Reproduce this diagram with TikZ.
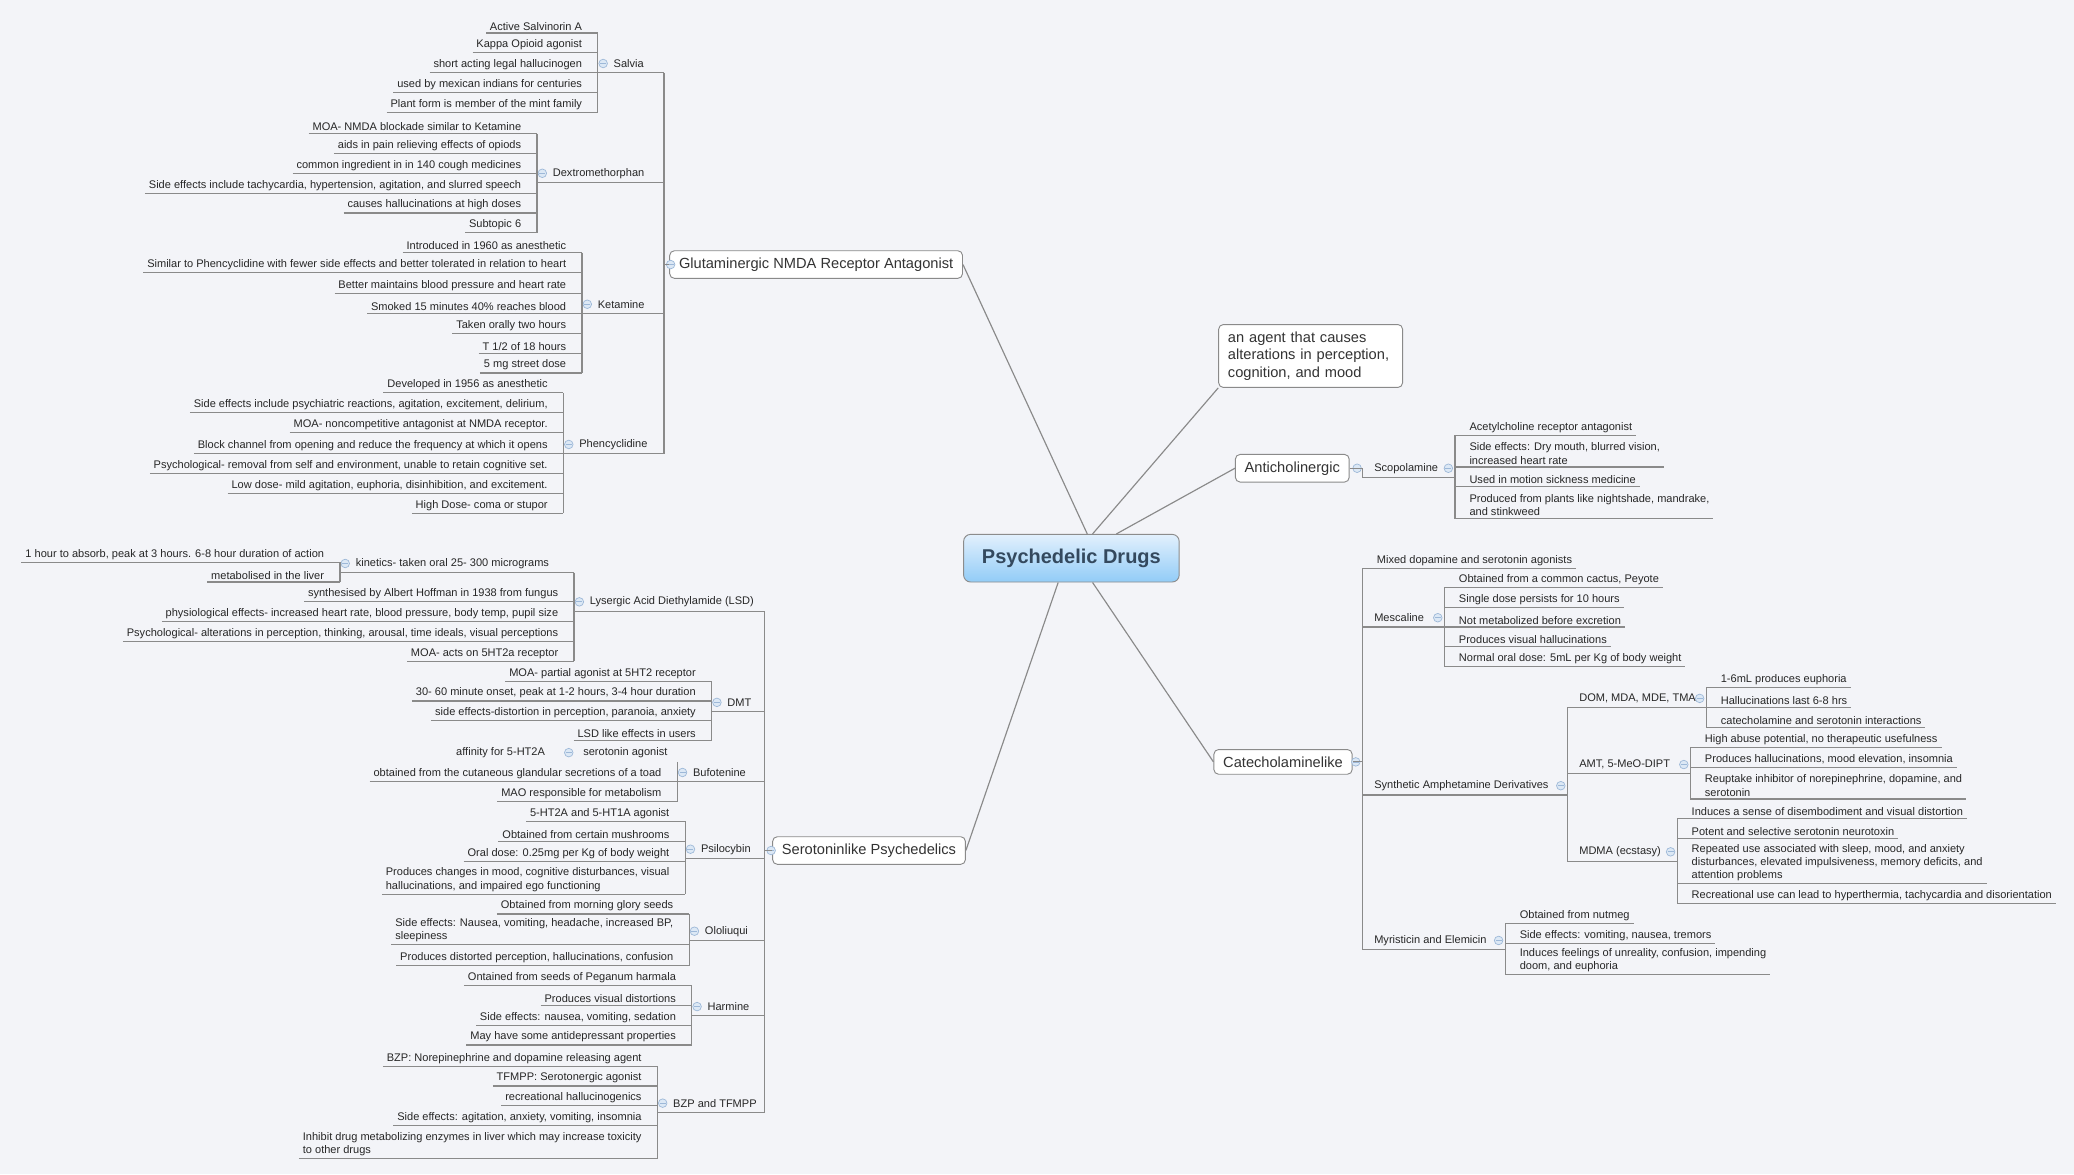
\documentclass[tikz,border=0pt]{standalone}
\usepackage{fontspec}
\setmainfont{Liberation Sans}
\usetikzlibrary{positioning}

\definecolor{bg}{HTML}{F3F4F8}
\definecolor{lnc}{HTML}{8A8A8A}
\definecolor{foldc}{HTML}{9DB8D8}
\definecolor{foldf}{HTML}{DCE8F5}
\definecolor{ctop}{HTML}{E2F0FD}
\definecolor{cbot}{HTML}{92CCF7}
\definecolor{ctext}{HTML}{34495E}

% leaf on the left / right of its bracket: name, bracket x, underline y, text
\newcommand\leafL[4]{\node[leaf,anchor=south east] (#1) at (#2-9,#3) {#4};
  \draw[ln] (#1.south west) -- (#2,#3);}
\newcommand\leafR[4]{\node[leaf,anchor=south west] (#1) at (#2+8,#3) {#4};
  \draw[ln] (#2,#3) -- (#1.south east);}
% subtopic: name, child bracket x, parent bracket x, text y, text
\newcommand\subL[5]{\node[fold] at (#2+4,#4) {};
  \node[leaf,anchor=west] (#1) at (#2+9,#4) {#5};
  \draw[ln] (#2,#4+7) -- (#3,#4+7);}
\newcommand\subR[5]{\node[fold] at (#2-5,#4) {};
  \node[leaf,anchor=west] (#1) at (#3+6,#4) {#5};
  \draw[ln] (#3,#4+7) -- (#2,#4+7);}
\newcommand\brk[3]{\draw[ln] (#1,#2) -- (#1,#3);}

\begin{document}
\begin{tikzpicture}[x=0.02cm,y=-0.02cm,
ln/.style={draw=lnc,line width=0.5pt},
leaf/.style={inner xsep=1.5pt,inner ysep=1pt,font=\fontsize{4.75}{5.7}\selectfont,align=left,text=black!85},
fold/.style={circle,draw=foldc,fill=foldf,minimum size=0.13cm,inner sep=0pt,line width=0.3pt,
  path picture={\draw[foldc,line width=0.3pt] ([xshift=-1.3pt]path picture bounding box.center) -- ++(2.6pt,0);}},
branch/.style={draw=lnc,fill=white,rounded corners=2pt,inner xsep=4pt,inner ysep=3pt,font=\fontsize{6.3}{7.6}\selectfont,text=black!80},
central/.style={draw=black!45,rounded corners=3pt,top color=ctop,bottom color=cbot,minimum width=3.26cm,minimum height=0.72cm,font=\bfseries\fontsize{8.6}{10}\selectfont,text=ctext}
]
\path[fill=bg] (0,0) rectangle (1568,887.6);

%Central and branches
\node[central] (psy) at (810,422) {Psychedelic Drugs};
\node[branch] (glut) at (617,200) {Glutaminergic NMDA Receptor Antagonist};
\node[branch,align=left,anchor=north west,minimum height=0.92cm,text width=2.5cm] (agent) at (921,245) {\raggedright an agent that causes alterations in perception, cognition, and mood};
\node[branch] (anti) at (977,354) {Anticholinergic};
\node[branch] (cat) at (970,576) {Catecholaminelike};
\node[branch] (sero) at (657,643) {Serotoninlike Psychedelics};

\draw[ln] ([xshift=0.24cm]psy.north) -- (glut.east);
\draw[ln] ([xshift=0.32cm]psy.north) -- (agent.south west);
\draw[ln] ([xshift=0.68cm]psy.north) -- (anti.west);
\draw[ln] ([xshift=0.32cm]psy.south) -- (cat.west);
\draw[ln] ([xshift=-0.2cm]psy.south) -- (sero.east);

%Glutaminergic
\node[fold] at (507,200) {};
\draw[ln] (glut.west) -- (502,200);
\brk{502}{55}{343}
\subL{salvia}{452}{502}{48}{Salvia}
\leafL{s1}{452}{25}{Active Salvinorin A}
\leafL{s2}{452}{40}{Kappa Opioid agonist}
\leafL{s3}{452}{55}{short acting legal hallucinogen}
\leafL{s4}{452}{70}{used by mexican indians for centuries}
\leafL{s5}{452}{85}{Plant form is member of the mint family}
\brk{452}{25}{85}
\subL{dxm}{406}{502}{131}{Dextromethorphan}
\leafL{d1}{406}{101}{MOA- NMDA blockade similar to Ketamine}
\leafL{d2}{406}{116}{aids in pain relieving effects of opiods}
\leafL{d3}{406}{131}{common ingredient in in 140 cough medicines}
\leafL{d4}{406}{146}{Side effects include tachycardia, hypertension, agitation, and slurred speech}
\leafL{d5}{406}{161}{causes hallucinations at high doses}
\leafL{d6}{406}{176}{Subtopic 6}
\brk{406}{101}{176}
\subL{ket}{440}{502}{230}{Ketamine}
\leafL{k1}{440}{191}{Introduced in 1960 as anesthetic}
\leafL{k2}{440}{206}{Similar to Phencyclidine with fewer side effects and better tolerated in relation to heart}
\leafL{k3}{440}{222}{Better maintains blood pressure and heart rate}
\leafL{k4}{440}{237}{Smoked 15 minutes 40\% reaches blood}
\leafL{k5}{440}{252}{Taken orally two hours}
\leafL{k6}{440}{267}{T 1/2 of 18 hours}
\leafL{k7}{440}{282}{5 mg street dose}
\brk{440}{191}{282}
\subL{pcp}{426}{502}{336}{Phencyclidine}
\leafL{p1}{426}{297}{Developed in 1956 as anesthetic}
\leafL{p2}{426}{312}{Side effects include psychiatric reactions, agitation, excitement, delirium,}
\leafL{p3}{426}{327}{MOA- noncompetitive antagonist at NMDA receptor.}
\leafL{p4}{426}{343}{Block channel from opening and reduce the frequency at which it opens}
\leafL{p5}{426}{358}{Psychological- removal from self and environment, unable to retain cognitive set.}
\leafL{p6}{426}{373}{Low dose- mild agitation, euphoria, disinhibition, and excitement.}
\leafL{p7}{426}{388}{High Dose- coma or stupor}
\brk{426}{297}{388}

%Serotoninlike
\node[fold] at (583,643) {};
\draw[ln] (sero.west) -- (578,643);
\brk{578}{462}{841}
\subL{lsd}{434}{578}{455}{Lysergic Acid Diethylamide (LSD)}
\subL{kin}{257}{434}{426}{kinetics- taken oral 25- 300 micrograms}
\leafL{l1}{257}{425}{1 hour to absorb, peak at 3 hours. 6-8 hour duration of action}
\leafL{l2}{257}{440}{metabolised in the liver}
\brk{257}{425}{440}
\leafL{l3}{434}{455}{synthesised by Albert Hoffman in 1938 from fungus}
\leafL{l4}{434}{470}{physiological effects- increased heart rate, blood pressure, body temp, pupil size}
\leafL{l5}{434}{485}{Psychological- alterations in perception, thinking, arousal, time ideals, visual perceptions}
\leafL{l6}{434}{500}{MOA- acts on 5HT2a receptor}
\brk{434}{433}{500}
\subL{dmt}{538}{578}{531}{DMT}
\leafL{m1}{538}{515}{MOA- partial agonist at 5HT2 receptor}
\leafL{m2}{538}{530}{30- 60 minute onset, peak at 1-2 hours, 3-4 hour duration}
\leafL{m3}{538}{545}{side effects-distortion in perception, paranoia, anxiety}
\leafL{m4}{538}{560}{LSD like effects in users}
\brk{538}{515}{560}
\subL{bufo}{512}{578}{584}{Bufotenine}
\node[fold] at (430,569) {};
\node[leaf,anchor=west] (b1) at (438,569) {serotonin agonist};
\node[leaf,anchor=east] (b0) at (415,569) {affinity for 5-HT2A};
\leafL{b2}{512}{591}{obtained from the cutaneous glandular secretions of a toad}
\leafL{b3}{512}{606}{MAO responsible for metabolism}
\brk{512}{576}{606}
\subL{psil}{518}{578}{642}{Psilocybin}
\leafL{ps1}{518}{621}{5-HT2A and 5-HT1A agonist}
\leafL{ps2}{518}{636}{Obtained from certain mushrooms}
\leafL{ps3}{518}{651}{Oral dose: 0.25mg per Kg of body weight}
\leafL{ps4}{518}{676}{Produces changes in mood, cognitive disturbances, visual\\hallucinations, and impaired ego functioning}
\brk{518}{621}{676}
\subL{olo}{521}{578}{704}{Ololiuqui}
\leafL{o1}{521}{691}{Obtained from morning glory seeds}
\leafL{o2}{521}{714}{Side effects: Nausea, vomiting, headache, increased BP,\\sleepiness}
\leafL{o3}{521}{730}{Produces distorted perception, hallucinations, confusion}
\brk{521}{691}{730}
\subL{harm}{523}{578}{761}{Harmine}
\leafL{h1}{523}{745}{Ontained from seeds of Peganum harmala}
\leafL{h2}{523}{760}{Produces visual distortions}
\leafL{h3}{523}{775}{Side effects: nausea, vomiting, sedation}
\leafL{h4}{523}{790}{May have some antidepressant properties}
\brk{523}{745}{790}
\subL{bzp}{497}{578}{834}{BZP and TFMPP}
\leafL{z1}{497}{806}{BZP: Norepinephrine and dopamine releasing agent}
\leafL{z2}{497}{821}{TFMPP: Serotonergic agonist}
\leafL{z3}{497}{836}{recreational hallucinogenics}
\leafL{z4}{497}{851}{Side effects: agitation, anxiety, vomiting, insomnia}
\leafL{z5}{497}{876}{Inhibit drug metabolizing enzymes in liver which may increase toxicity\\to other drugs}
\brk{497}{806}{876}

%Anticholinergic
\node[fold] at (1026,354) {};
\draw[ln] (anti.east) -- (1030,354);
\draw[ln] (1030,354) -- (1030,361);
\subR{scop}{1100}{1030}{354}{Scopolamine}
\leafR{a1}{1100}{329}{Acetylcholine receptor antagonist}
\leafR{a2}{1100}{353}{Side effects: Dry mouth, blurred vision,\\increased heart rate}
\leafR{a3}{1100}{368}{Used in motion sickness medicine}
\leafR{a4}{1100}{392}{Produced from plants like nightshade, mandrake,\\and stinkweed}
\brk{1100}{329}{392}

%Catecholaminelike
\node[fold] at (1025,576) {};
\draw[ln] (cat.east) -- (1030,576);
\brk{1030}{430}{718}
\leafR{c0}{1030}{430}{Mixed dopamine and serotonin agonists}
\subR{mesc}{1092}{1030}{467}{Mescaline}
\leafR{me1}{1092}{444}{Obtained from a common cactus, Peyote}
\leafR{me2}{1092}{459}{Single dose persists for 10 hours}
\leafR{me3}{1092}{474}{Not metabolized before excretion}
\leafR{me4}{1092}{489}{Produces visual hallucinations}
\leafR{me5}{1092}{504}{Normal oral dose: 5mL per Kg of body weight}
\brk{1092}{444}{504}
\subR{syn}{1185}{1030}{594}{Synthetic Amphetamine Derivatives}
\brk{1185}{535}{651}
\subR{dom}{1290}{1185}{528}{DOM, MDA, MDE, TMA}
\leafR{do1}{1290}{520}{1-6mL produces euphoria}
\leafR{do2}{1290}{535}{Hallucinations last 6-8 hrs}
\leafR{do3}{1290}{550}{catecholamine and serotonin interactions}
\brk{1290}{520}{550}
\subR{amt}{1278}{1185}{578}{AMT, 5-MeO-DIPT}
\leafR{am1}{1278}{565}{High abuse potential, no therapeutic usefulness}
\leafR{am2}{1278}{580}{Produces hallucinations, mood elevation, insomnia}
\leafR{am3}{1278}{604}{Reuptake inhibitor of norepinephrine, dopamine, and\\serotonin}
\brk{1278}{565}{604}
\subR{mdma}{1268}{1185}{644}{MDMA (ecstasy)}
\leafR{md1}{1268}{619}{Induces a sense of disembodiment and visual distortion}
\leafR{md2}{1268}{634}{Potent and selective serotonin neurotoxin}
\leafR{md3}{1268}{668}{Repeated use associated with sleep, mood, and anxiety\\disturbances, elevated impulsiveness, memory deficits, and\\attention problems}
\leafR{md4}{1268}{683}{Recreational use can lead to hyperthermia, tachycardia and disorientation}
\brk{1268}{619}{683}
\subR{myr}{1138}{1030}{711}{Myristicin and Elemicin}
\leafR{my1}{1138}{698}{Obtained from nutmeg}
\leafR{my2}{1138}{713}{Side effects: vomiting, nausea, tremors}
\leafR{my3}{1138}{737}{Induces feelings of unreality, confusion, impending\\doom, and euphoria}
\brk{1138}{698}{737}
\end{tikzpicture}
\end{document}
